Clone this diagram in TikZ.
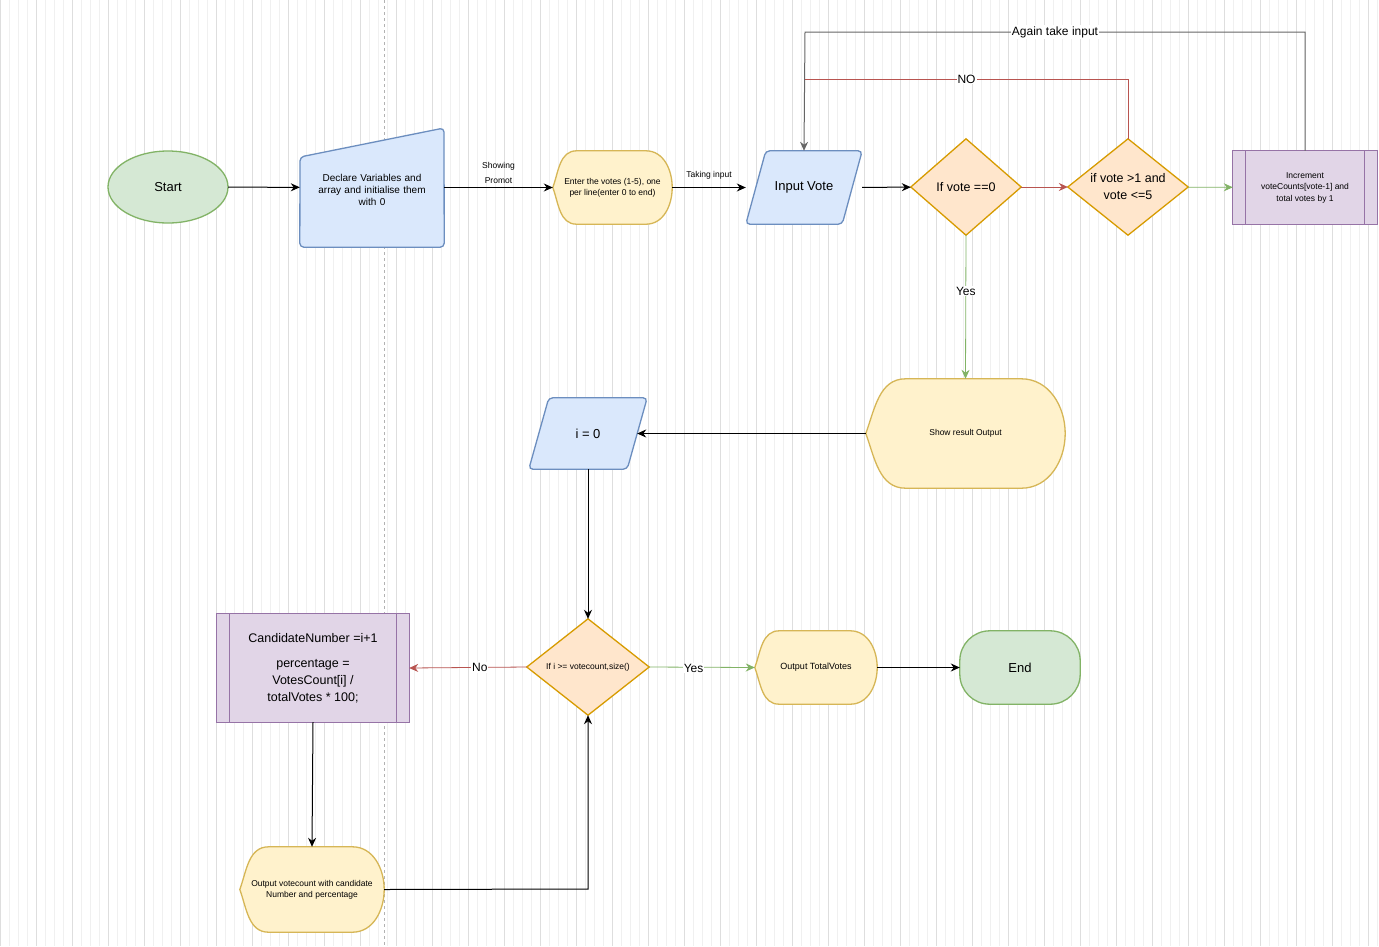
\documentclass[tikz,border=0pt]{standalone}
\usepackage{fontspec}
\setmainfont{Liberation Sans}
\usetikzlibrary{calc,arrows.meta,backgrounds}
\definecolor{gfill}{HTML}{D5E8D4}\definecolor{gline}{HTML}{82B366}
\definecolor{bfill}{HTML}{DAE8FC}\definecolor{bline}{HTML}{6C8EBF}
\definecolor{yfill}{HTML}{FFF2CC}\definecolor{yline}{HTML}{D6B656}
\definecolor{ofill}{HTML}{FFE6CC}\definecolor{oline}{HTML}{D79B00}
\definecolor{pfill}{HTML}{E1D5E7}\definecolor{pline}{HTML}{9673A6}
\definecolor{rline}{HTML}{B85450}\definecolor{kline}{HTML}{666666}
\tikzset{
  box/.style={draw=none, inner sep=1pt, align=center, font=\fontsize{10}{12}\selectfont},
  green shape/.style={fill=gfill, draw=gline, line width=1.3pt},
  blue shape/.style={fill=bfill, draw=bline, line width=1.3pt, rounded corners=4pt},
  yellow shape/.style={fill=yfill, draw=yline, line width=1.3pt},
  orange shape/.style={fill=ofill, draw=oline, line width=1.3pt},
  purple shape/.style={fill=pfill, draw=pline, line width=1.1pt},
  flow/.style={-{Stealth[length=9pt,width=8pt]}, line width=1pt},
  lbl/.style={fill=white, inner sep=1pt, font=\fontsize{12}{14}\selectfont},
}
% shapes drawn round the named nodes
\newcommand\dispshape[1]{%
  \path[yellow shape] (#1.west) to[out=70,in=180] ($(#1.north west)!0.2!(#1.north east)$)
    -- ($(#1.north west)!0.78!(#1.north east)$) to[out=0,in=90] (#1.east)
    to[out=-90,in=0] ($(#1.south west)!0.78!(#1.south east)$)
    -- ($(#1.south west)!0.2!(#1.south east)$) to[out=180,in=-70] (#1.west) -- cycle;}
\newcommand\diashape[1]{%
  \path[orange shape] (#1.north) -- (#1.east) -- (#1.south) -- (#1.west) -- cycle;}
\newcommand\parashape[1]{%
  \path[blue shape] ($(#1.north west)+(20,0)$) -- (#1.north east) -- ($(#1.south east)-(20,0)$)
    -- (#1.south west) -- cycle;}
\newcommand\subshape[1]{%
  \path[purple shape] (#1.north west) rectangle (#1.south east);
  \draw[draw=pline, line width=1.1pt] ($(#1.north west)+(13,0)$) -- ($(#1.south west)+(13,0)$)
    ($(#1.north east)-(13,0)$) -- ($(#1.south east)-(13,0)$);}
\begin{document}
\begin{tikzpicture}[x=1pt,y=-1pt]
\useasboundingbox (0,0) rectangle (1379,946);
% nodes
\node[box, font=\fontsize{13}{15}\selectfont, minimum width=120pt, minimum height=72pt] (start) at (168,187) {Start};
\node[box, text width=136pt, minimum width=144pt, minimum height=119pt] (decl) at (372,187.5) {\\Declare Variables and\\array and initialise them\\with 0};
\node[box, font=\fontsize{8.5}{11}\selectfont, minimum width=119pt, minimum height=73pt] (enter) at (612.5,187.5) {Enter the votes (1-5), one\\per line(enter 0 to end)};
\node[box, font=\fontsize{13}{15}\selectfont, minimum width=116pt, minimum height=73pt] (input) at (804,187.5) {Input Vote};
\node[box, font=\fontsize{12.5}{15}\selectfont, minimum width=110pt, minimum height=96pt] (zero) at (966,187) {If vote ==0};
\node[box, font=\fontsize{12.5}{17}\selectfont, minimum width=120pt, minimum height=96pt] (range) at (1128,187) {if vote >1 and\\vote <=5};
\node[box, font=\fontsize{8.5}{11.5}\selectfont, minimum width=144pt, minimum height=73pt] (incr) at (1305,187.5) {Increment\\voteCounts[vote-1] and\\total votes by 1};
\node[box, font=\fontsize{8.5}{11}\selectfont, minimum width=199pt, minimum height=109pt] (show) at (965.5,433.5) {Show result Output};
\node[box, font=\fontsize{13}{15}\selectfont, minimum width=118pt, minimum height=71pt] (init) at (588,433.5) {i = 0};
\node[box, font=\fontsize{8.5}{11}\selectfont, minimum width=122pt, minimum height=96pt] (check) at (588,667) {If i >= votecount,size()};
\node[box, font=\fontsize{12.5}{17}\selectfont, minimum width=192pt, minimum height=108pt] (calc) at (313,668) {CandidateNumber =i+1\\[8pt]percentage =\\VotesCount[i] /\\totalVotes * 100;};
\node[box, font=\fontsize{9}{11}\selectfont, minimum width=122pt, minimum height=73pt] (total) at (816,667.5) {Output TotalVotes};
\node[box, font=\fontsize{13}{15}\selectfont, minimum width=120pt, minimum height=73pt] (end) at (1020,667.5) {End};
\node[box, font=\fontsize{8.5}{11}\selectfont, minimum width=144pt, minimum height=85pt] (outv) at (312,889.5) {Output votecount with candidate\\Number and percentage};
\coordinate (loopin) at (805,32);
\coordinate (bend) at (588,889);
% shapes and grid
\begin{scope}[on background layer]
  \fill[white] (0,0) rectangle (1379,946);
  \draw[black!6, line width=0.4pt] (0,0) grid[step=9] (1379,946);
  \draw[black!13, line width=0.6pt] (0,0) grid[step=36] (1379,946);
  \draw[black!30, dashed, line width=0.6pt] (384,0) -- (384,946);
  \path[green shape] (start) ellipse[x radius=60, y radius=36];
  \path[blue shape] (decl.south west) -- (300,157) -- (444,128) -- (decl.south east) -- cycle;
  \dispshape{enter}
  \parashape{input}
  \diashape{zero}
  \diashape{range}
  \subshape{incr}
  \dispshape{show}
  \parashape{init}
  \diashape{check}
  \subshape{calc}
  \dispshape{total}
  \path[green shape] (end.north west) [rounded corners=30pt] rectangle (end.south east);
  \dispshape{outv}
\end{scope}
% connectors
\draw[flow] (start) -- (decl);
\draw[flow] (decl) -- node[above, font=\fontsize{8.5}{15}\selectfont, align=center]{Showing\\Promot} (enter);
\draw[flow] (enter) -- node[above, yshift=4pt, font=\fontsize{8.5}{10}\selectfont]{Taking input} (input);
\draw[flow] (input) -- (zero);
\draw[flow, draw=rline, line width=0.8pt] (zero) -- (range);
\draw[flow, draw=gline, line width=0.8pt] (range) -- (incr);
\draw[flow, draw=kline, line width=1pt] (incr.north) |- node[lbl, pos=0.75]{Again take input} (loopin) -- (input.north);
\draw[draw=rline, line width=0.8pt] (range.north) |- node[lbl, pos=0.75]{NO} (805,79);
\draw[flow, draw=gline, line width=0.8pt] (zero.south) -- node[lbl, pos=0.39]{Yes} (show.north);
\draw[flow] (show) -- ($(init.east)-(10,0)$);
\draw[flow] (init.south) -- (check.north);
\draw[flow, draw=rline, line width=0.8pt] (check.west) -- node[lbl, pos=0.4]{No} (calc.east);
\draw[flow, draw=gline, line width=0.8pt] (check.east) -- node[lbl, pos=0.42, yshift=-1pt]{Yes} (total.west);
\draw[flow] (total) -- (end);
\draw[flow] (calc.south) -- (outv.north);
\draw[flow] (outv.east) -- (bend) -- (check.south);
\end{tikzpicture}
\end{document}
